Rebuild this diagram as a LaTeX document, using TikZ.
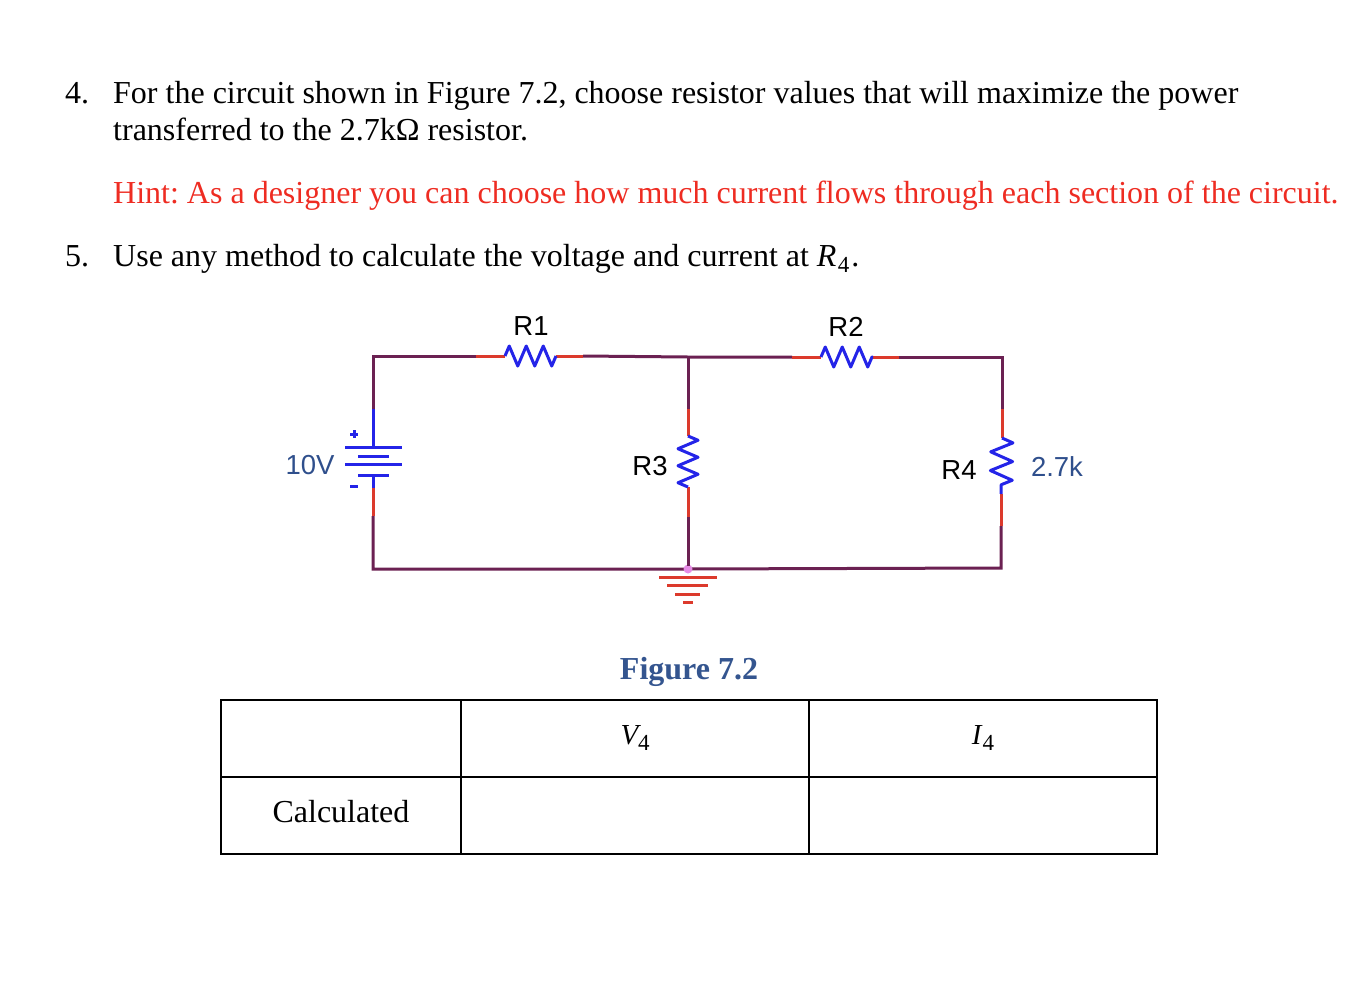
\documentclass[tikz,border=0pt]{standalone}
\usepackage{fontspec}
\setmainfont{Liberation Serif}
\setsansfont{Liberation Sans}
\usetikzlibrary{decorations.pathmorphing}
\definecolor{wirecol}{HTML}{6B2152}
\definecolor{leadcol}{HTML}{DC3A2C}
\definecolor{partcol}{HTML}{2424E8}
\definecolor{valcol}{HTML}{2F4F8C}
\definecolor{hintcol}{HTML}{EE2C22}
\definecolor{capcol}{HTML}{34558F}
\newcommand{\subvar}[3][1.5pt]{\textit{#2}\kern#1\raisebox{-6pt}{\fontsize{23}{23}\selectfont #3}}
\begin{document}
\begin{tikzpicture}[
x=1pt,y=-1pt,
para/.style={anchor=base west,inner sep=0pt,font=\fontsize{32}{36}\selectfont},
lab/.style={inner sep=0pt,anchor=base,font=\sffamily\fontsize{27.5}{30}\selectfont},
val/.style={lab,text=valcol},
wire/.style={draw=wirecol,line width=3pt},
lead/.style={draw=leadcol,line width=3pt},
part/.style={draw=partcol,line width=3pt,line join=round},
gnd/.style={draw=leadcol,line width=3pt},
res/.style={part,decorate,decoration={zigzag,segment length=17pt,amplitude=10pt}},
cell/.style={draw,line width=2.6pt,inner sep=0pt,minimum height=77pt,font=\fontsize{32}{36}\selectfont},
]
\useasboundingbox (0,0) rectangle (1352,980);
% text above the circuit
\node[para] (n4) at (65,103) {4.};
\node[para] (l1) at (113,103) {For the circuit shown in Figure 7.2, choose resistor values that will maximize the power};
\node[para] (l2) at (113,140) {transferred to the 2.7kΩ resistor.};
\node[para,text=hintcol] (hint) at (113,203) {\frenchspacing Hint: As a designer you can choose how much current flows through each section of the circuit.};
\node[para] (n5) at (65,266) {5.};
\node[para] (l3) at (113,266) {Use any method to calculate the voltage and current at \subvar{R}{4}\kern2pt.};
% corners and ends of the parts
\coordinate (tl) at (373,356);
\coordinate (tm) at (688,357);
\coordinate (tr) at (1002,357);
\coordinate (bl) at (373,569);
\coordinate (bm) at (688,569);
\coordinate (br) at (1001,568);
\coordinate (r1a) at (476,356);
\coordinate (r1b) at (505,356);
\coordinate (r1c) at (556,356);
\coordinate (r1d) at (583,356);
\coordinate (r2a) at (792,357);
\coordinate (r2b) at (821,357);
\coordinate (r2c) at (873,357);
\coordinate (r2d) at (899,357);
\coordinate (r3a) at (688,409);
\coordinate (r3b) at (688,436);
\coordinate (r3c) at (688,487);
\coordinate (r3d) at (688,517);
\coordinate (r4a) at (1002,409);
\coordinate (r4b) at (1002,438);
\coordinate (r4c) at (1001,494);
\coordinate (r4d) at (1001,526);
\coordinate (ba) at (373,409);
\coordinate (bb) at (373,447);
\coordinate (bc) at (373,475);
\coordinate (bd) at (373,488);
\coordinate (be) at (373,516);
% wires
\draw[wire,line join=miter] (ba) -- (tl) -- (r1a);
\draw[wire] (r1d) -- (tm) -- (r2a);
\draw[wire] (r2d) -- (tr) -- (r4a);
\draw[wire] (be) -- (bl) -- (bm) -- (br) -- (r4d);
\draw[wire] (tm) -- (r3a);
\draw[wire] (r3d) -- (bm);
% red leads
\foreach \from/\to in {r1a/r1b,r1c/r1d,r2a/r2b,r2c/r2d,r3a/r3b,r3c/r3d,r4a/r4b,r4c/r4d,bd/be}
  \draw[lead] (\from) -- (\to);
% resistors
\draw[res] (r1b) -- (r1c);
\draw[res] (r2b) -- (r2c);
\draw[res] (r3b) -- (r3c);
\draw[res,decoration={segment length=18.7pt,amplitude=11pt}] (r4b) -- (r4c);
% battery
\draw[part] (ba) -- (bb);
\draw[part] (bc) -- (bd);
\draw[part] (345,447) -- (402,447);
\draw[part] (358,456) -- (389,456);
\draw[part] (345,464) -- (402,464);
\draw[part] (358,475) -- (389,475);
\draw[part] (350,434) -- (358,434) (354,430) -- (354,438);
\draw[part] (350,486) -- (358,486);
% ground
\fill[violet!45!magenta!45] (bm) circle (4.5);
\draw[wire] (688,550) -- (688,566);
\draw[gnd] (659,577) -- (717,577);
\draw[gnd] (667,585) -- (708,585);
\draw[gnd] (675,594) -- (700,594);
\draw[gnd] (683,602) -- (693,602);
% labels
\node[lab] (r1) at (531,335) {R1};
\node[lab] (r2) at (846,336) {R2};
\node[lab] (r3) at (650,475) {R3};
\node[lab] (r4) at (959,479) {R4};
\node[val] (v10) at (310,474) {10V};
\node[val] (k27) at (1057,476) {2.7k};
\node[para,anchor=base,text=capcol,font=\fontsize{32}{36}\selectfont\bfseries] (cap) at (689,679) {Figure 7.2};
% table
\node[cell,minimum width=240pt] (c11) at (341,738.5) {};
\node[cell,minimum width=348pt,font=\fontsize{29}{32}\selectfont,text depth=8pt] (c12) at (635,738.5) {\subvar[-3pt]{V}{4}};
\node[cell,minimum width=348pt,font=\fontsize{29}{32}\selectfont,text depth=8pt] (c13) at (983,738.5) {\subvar[0pt]{I}{4}};
\node[cell,minimum width=240pt,text depth=8pt] (c21) at (341,815.5) {Calculated};
\node[cell,minimum width=348pt] (c22) at (635,815.5) {};
\node[cell,minimum width=348pt] (c23) at (983,815.5) {};
\end{tikzpicture}
\end{document}
